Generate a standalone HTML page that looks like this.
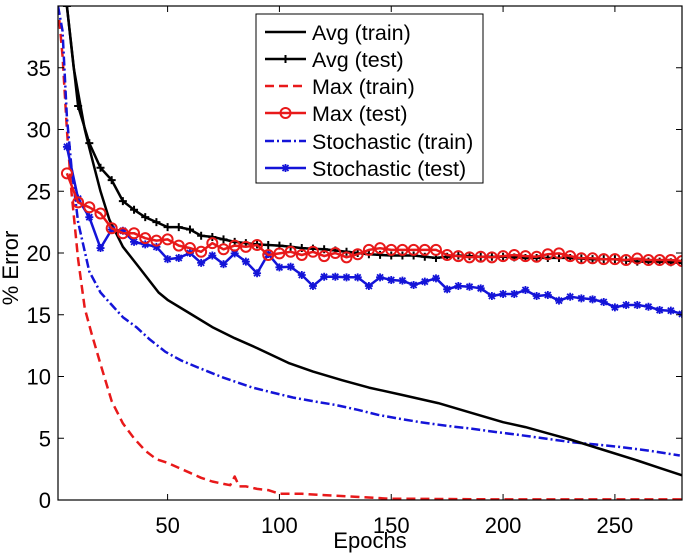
<!DOCTYPE html>
<html><head><meta charset="utf-8">
<style>
html,body{margin:0;padding:0;background:#fff;}
svg{display:block;font-family:"Liberation Sans",sans-serif;}
</style></head>
<body>
<svg id="chart" width="690" height="554" viewBox="0 0 690 554">
<defs><clipPath id="clip"><rect x="58" y="6" width="624" height="494"/></clipPath></defs>
<rect x="58" y="6" width="624" height="494" fill="#fff"/>
<g id="series" clip-path="url(#clip)"></g>
<g id="axes"></g>
<g id="legend"></g>
</svg>
<script>
const xTicks = [50,100,150,200,250];
const yTicks = [0,5,10,15,20,25,30,35];
const testEpochs = [5,10,15,20,25,30,35,40,45,50,55,60,65,70,75,80,85,90,95,100,105,110,115,120,125,130,135,140,145,150,155,160,165,170,175,180,185,190,195,200,205,210,215,220,225,230,235,240,245,250,255,260,265,270,275,280];
const avgTest = [40,31.9,28.9,26.9,25.9,24.2,23.5,22.9,22.5,22.1,22.1,21.9,21.4,21.3,21.1,20.9,20.8,20.7,20.65,20.6,20.5,20.4,20.35,20.3,20.2,20.1,20.0,19.9,19.85,19.8,19.8,19.8,19.7,19.6,19.7,19.8,19.75,19.7,19.7,19.7,19.65,19.6,19.6,19.6,19.6,19.6,19.55,19.5,19.5,19.5,19.4,19.3,19.3,19.3,19.25,19.2];
const maxTest = [26.45,24.1,23.7,23.2,22.0,21.6,21.6,21.2,21.0,21.1,20.6,20.4,20.1,20.8,20.3,20.6,20.5,20.65,19.84,19.97,20.1,19.84,20.1,19.75,20.0,19.65,19.9,20.25,20.39,20.25,20.25,20.25,20.25,20.25,19.84,19.75,19.65,19.7,19.65,19.75,19.84,19.75,19.7,19.9,19.97,19.75,19.57,19.57,19.5,19.5,19.43,19.55,19.43,19.43,19.43,19.35];
const stochTest = [28.6,24.4,22.9,20.4,21.9,21.8,20.9,20.7,20.5,19.5,19.6,20.0,19.2,19.8,19.1,19.97,19.3,18.36,19.92,18.84,18.89,18.22,17.33,18.08,18.08,18.03,18.03,17.33,18.03,17.81,17.76,17.41,17.68,17.95,17.06,17.33,17.27,17.14,16.52,16.68,16.68,17.0,16.52,16.6,16.14,16.46,16.33,16.25,16.03,15.6,15.79,15.79,15.65,15.38,15.33,15.06];
const avgTrainEpochs = [3,5,8,10,13,15,20,24,30,37,46,50,60,70,80,90,104,115,128,140,155,171,185,200,210,220,230,245,260,270,280];
const avgTrain = [44,40,35,33,30,28.5,25,22.7,20.5,18.9,16.8,16.2,15.1,14,13.1,12.3,11.1,10.4,9.7,9.1,8.5,7.85,7.1,6.3,5.9,5.4,4.9,4.05,3.2,2.6,2.0];
const maxTrainEpochs = [1,3,5,7,10,13,16,20,25,30,35,40,45,50,55,60,65,70,75,78,80,82,85,90,95,100,110,120,130,140,150,160,200,240,280];
const maxTrain = [40,36,30,25,19.5,15.5,13.5,11,8,6.2,5,4,3.3,3,2.6,2.2,1.8,1.5,1.3,1.2,1.9,1.1,1.1,0.9,0.8,0.5,0.5,0.4,0.3,0.2,0.1,0.1,0.05,0.05,0.05];
const stochTrainEpochs = [1,3,5,7,10,15,20,25,30,36,42,49,56,64,75,88,97,106,115,125,135,144,153,163,175,185,197,208,220,230,241,252,265,279];
const stochTrain = [40,38,31,27,22.5,18.5,16.8,15.8,14.8,14.0,13.0,12.0,11.3,10.7,9.9,9.1,8.7,8.3,8.0,7.7,7.3,6.9,6.6,6.3,6.0,5.8,5.5,5.25,4.95,4.7,4.5,4.3,4.0,3.6];

const X0=58, X1=682, Y0=500, Y1=6, XMIN=1, XMAX=280, YMIN=0, YMAX=40;
const xs = v => X0 + (v-XMIN)/(XMAX-XMIN)*(X1-X0);
const ys = v => Y0 - (v-YMIN)/(YMAX-YMIN)*(Y0-Y1);
const NS="http://www.w3.org/2000/svg";
function mk(tag, attrs, parent){const e=document.createElementNS(NS,tag);for(const k in attrs)e.setAttribute(k,attrs[k]);parent.appendChild(e);return e;}
const series=document.getElementById('series'), axes=document.getElementById('axes'), legend=document.getElementById('legend');

function line(xsArr, ysArr, color, dash, name){
  const d = xsArr.map((x,i)=>(i?'L':'M')+xs(x).toFixed(1)+','+ys(ysArr[i]).toFixed(1)).join('');
  const p = mk('path',{d:d,fill:'none',stroke:color,'stroke-width':2.5,'stroke-dasharray':dash||'none','stroke-linejoin':'round'},series);
  
  
}
function marker(type, cx, cy, color, parent){
  let g;
  if(type==='circle'){ g=mk('circle',{cx:cx,cy:cy,r:5,fill:'none',stroke:color,'stroke-width':2},parent); }
  else if(type==='plus'){ g=mk('path',{d:`M${cx-4},${cy}h8M${cx},${cy-4}v8`,stroke:color,'stroke-width':2},parent); }
  else { g=mk('path',{d:`M${cx-4},${cy}h8M${cx},${cy-4}v8M${cx-3},${cy-3}l6,6M${cx+3},${cy-3}l-6,6`,stroke:color,'stroke-width':1.8},parent); }
  return g;
}
function markers(xsArr, ysArr, color, type, name){
  xsArr.forEach((x,i)=>{
    const m = marker(type, xs(x), ys(ysArr[i]), color, series);
    
    
  });
}

line(maxTrainEpochs, maxTrain, '#e8191a', '9,5', 'max-train-line');
line(stochTrainEpochs, stochTrain, '#1414d8', '9,3,2,3', 'stochastic-train-line');
line(avgTrainEpochs, avgTrain, '#000', null, 'avg-train-line');
line(testEpochs, avgTest, '#000', null, 'avg-test-line');
markers(testEpochs, avgTest, '#000', 'plus', 'avg-test-marker');
line(testEpochs, stochTest, '#1414d8', null, 'stochastic-test-line');
markers(testEpochs, stochTest, '#1414d8', 'star', 'stochastic-test-marker');
line(testEpochs, maxTest, '#e8191a', null, 'max-test-line');
markers(testEpochs, maxTest, '#e8191a', 'circle', 'max-test-marker');

const box = mk('rect',{x:X0,y:Y1,width:X1-X0,height:Y0-Y1,fill:'none',stroke:'#000','stroke-width':1.2},axes);


xTicks.forEach(t=>{
  const x=xs(t);
  mk('path',{d:`M${x},${Y0}v-6M${x},${Y1}v6`,stroke:'#000','stroke-width':1},axes);
  const tx = mk('text',{x:x,y:Y0+33,'text-anchor':'middle','font-size':22,fill:'#000'},axes);
  tx.textContent=t;
  
  
});
yTicks.forEach(t=>{
  const y=ys(t);
  mk('path',{d:`M${X0},${y}h6M${X1},${y}h-6`,stroke:'#000','stroke-width':1},axes);
  const ty = mk('text',{x:X0-7,y:y+8,'text-anchor':'end','font-size':22,fill:'#000'},axes);
  ty.textContent=t;
  
  
});
const xl = mk('text',{x:370,y:548,'text-anchor':'middle','font-size':22,fill:'#000'},axes);
xl.textContent='Epochs';


const yl = mk('text',{x:0,y:0,'text-anchor':'middle','font-size':22,fill:'#000',transform:'translate(18,268) rotate(-90)'},axes);
yl.textContent='% Error';



const lb = mk('rect',{x:256,y:14,width:227,height:169,fill:'#fff',stroke:'#000','stroke-width':1},legend);


const entries = [
  ['Avg (train)','#000',null,null],
  ['Avg (test)','#000',null,'plus'],
  ['Max (train)','#e8191a','9,5',null],
  ['Max (test)','#e8191a',null,'circle'],
  ['Stochastic (train)','#1414d8','9,3,2,3',null],
  ['Stochastic (test)','#1414d8',null,'star']
];
const ly=[32,59,86,113,141,168];
entries.forEach((e,i)=>{
  const g = mk('g',{},legend);
  
  
  mk('path',{d:`M265,${ly[i]}H306`,stroke:e[1],'stroke-width':2.5,'stroke-dasharray':e[2]||'none'},g);
  if(e[3]) marker(e[3],285.5,ly[i],e[1],g);
  const t = mk('text',{x:312,y:ly[i]+8,'font-size':21.5,fill:'#000'},g);
  t.textContent=e[0];
});
</script>
</body></html>
